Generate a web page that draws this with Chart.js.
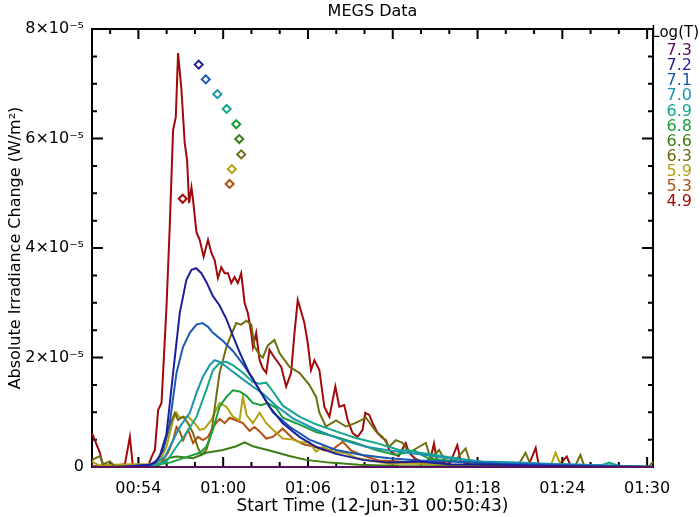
<!DOCTYPE html>
<html>
<head>
<meta charset="utf-8">
<title>MEGS Data</title>
<script src="https://cdn.jsdelivr.net/npm/chart.js@4.4.1/dist/chart.umd.min.js"></script>
<style>
    html, body { margin: 0; padding: 0; background: #fff; }
    #wrap { width: 700px; height: 517px; }
</style>
</head>
<body>
<div id="wrap"><canvas id="megsChart" width="700" height="517"></canvas></div>
<script>
// Start of the time axis: 00:50:43, in minutes after midnight
const START_CLOCK = 50 + 43 / 60;

// Tick labels
const xTickLabels = ['00:54', '01:00', '01:06', '01:12', '01:18', '01:24', '01:30'];
const yTickValues = [0, 2, 4, 6, 8];
const yTickLabels = ['0', '2\u00d710\u207b\u2075', '4\u00d710\u207b\u2075', '6\u00d710\u207b\u2075', '8\u00d710\u207b\u2075'];

// Legend / series names (Log T) and colours
const logT = ['7.3', '7.2', '7.1', '7.0', '6.9', '6.8', '6.6', '6.3', '5.9', '5.3', '4.9'];
const lineColors = ['#5a1060', '#1f1f9a', '#1a58b4', '#1a94b0', '#14a88c', '#18a03c',
                    '#3c7d14', '#6e6e10', '#b4a014', '#b4500f', '#a00a0a'];

// Series: [minutes since 00:50:43, irradiance change in units of 1e-5 W/m^2]
const s73 = [[0, 0], [10, 0], [20, 0], [30, 0], [39.7, 0]];
const s72 = [[0, 0], [2, 0], [4.1, 0.04], [4.45, 0.08], [4.8, 0.2], [5.27, 0.6], [5.74, 1.72], [6.21, 2.81],
    [6.68, 3.42], [7.04, 3.6], [7.37, 3.63], [7.74, 3.54], [8.09, 3.38], [8.56, 3.12], [9.03, 2.95],
    [9.51, 2.7], [9.97, 2.4], [10.44, 2.1], [11.15, 1.7], [11.86, 1.4], [12.56, 1.1], [13.5, 0.8],
    [14.68, 0.55], [15.86, 0.37], [17.27, 0.24], [19.15, 0.13], [21.03, 0.08], [23.1, 0.1], [25.3, 0.05],
    [28.8, 0.04], [32.3, 0.02], [35.9, 0.01], [39.7, 0]];
const s71 = [[0, 0], [2, 0], [4.1, 0.04], [4.6, 0.12], [5.03, 0.31], [5.5, 0.8], [5.98, 1.72], [6.44, 2.19],
    [6.92, 2.45], [7.39, 2.6], [7.81, 2.63], [8.21, 2.56], [8.56, 2.45], [9.27, 2.3], [9.97, 2.12],
    [10.68, 1.88], [11.38, 1.62], [11.86, 1.4], [12.33, 1.2], [12.8, 1.0], [13.97, 0.74], [15.38, 0.5],
    [17.27, 0.31], [19.13, 0.22], [21.03, 0.16], [23.15, 0.12], [25.3, 0.1], [28.8, 0.06], [32.3, 0.04],
    [35.9, 0.02], [39.7, 0]];
const s70 = [[0, 0], [2, 0], [4.1, 0.03], [5.15, 0.18], [5.74, 0.49], [6.21, 0.73], [6.92, 0.99], [7.39, 1.35],
    [7.85, 1.65], [8.33, 1.86], [8.68, 1.95], [9.03, 1.92], [9.51, 1.83], [9.97, 1.74], [10.68, 1.6],
    [11.38, 1.47], [12.09, 1.34], [13.03, 1.12], [14.21, 0.89], [15.86, 0.68], [17.74, 0.49], [19.39, 0.37],
    [21.03, 0.3], [22.9, 0.24], [25.3, 0.16], [27.6, 0.1], [30.2, 0.08], [33.0, 0.05], [35.9, 0.03], [39.7, 0]];
const s69 = [[0, 0], [2, 0], [4.1, 0.02], [5.27, 0.1], [5.98, 0.37], [6.68, 0.62], [7.39, 0.91], [8.09, 1.41],
    [8.56, 1.77], [9.03, 1.9], [9.51, 1.92], [9.97, 1.86], [10.68, 1.72], [11.38, 1.55], [11.86, 1.52],
    [12.33, 1.54], [12.8, 1.38], [13.5, 1.12], [14.68, 0.92], [15.86, 0.78], [17.27, 0.65], [18.68, 0.53],
    [20.09, 0.44], [21.74, 0.31], [22.5, 0.3], [22.92, 0.27], [24.33, 0.22], [25.74, 0.16], [27.6, 0.09],
    [30.2, 0.06], [33.0, 0.05], [36.0, 0.03], [36.6, 0.08], [37.3, 0.02], [39.7, 0]];
const s68 = [[0, 0], [2, 0], [4.1, 0.02], [5.5, 0.08], [6.68, 0.18], [7.62, 0.26], [8.09, 0.37], [8.56, 0.68],
    [9.03, 1.1], [9.51, 1.28], [9.97, 1.4], [10.44, 1.38], [10.92, 1.3], [11.38, 1.17], [11.97, 1.13],
    [12.42, 1.17], [13.03, 1.08], [13.5, 0.9], [14.45, 0.8], [15.86, 0.64], [17.27, 0.55], [18.68, 0.44],
    [20.09, 0.31], [21.5, 0.22], [22.8, 0.3], [23.85, 0.15], [26.0, 0.1], [28.8, 0.06], [32.3, 0.04],
    [35.9, 0.03], [39.7, 0]];
const s66 = [[0, 0], [4.1, 0.01], [4.8, 0.05], [5.03, 0.1], [5.5, 0.17], [5.98, 0.19], [7.15, 0.16], [8.09, 0.26],
    [9.27, 0.31], [10.21, 0.38], [10.8, 0.45], [11.38, 0.38], [12.56, 0.3], [13.97, 0.2], [15.15, 0.13],
    [16.8, 0.08], [18.9, 0.04], [21.7, 0.02], [39.7, 0]];
const s63 = [[0, 0.13], [0.56, 0.2], [0.78, 0.05], [1.27, 0.1], [1.6, 0.02], [2.45, 0], [3.39, 0], [4.45, 0.05],
    [5.03, 0.31], [5.5, 0.75], [5.86, 0.99], [6.09, 0.86], [6.44, 0.92], [6.8, 0.8], [7.15, 0.62], [7.5, 0.35],
    [7.74, 0.22], [8.09, 0.31], [8.45, 0.62], [8.8, 1.3], [9.03, 1.72], [9.51, 2.19], [9.86, 2.42], [10.21, 2.63],
    [10.56, 2.6], [10.92, 2.67], [11.27, 2.6], [11.5, 2.2], [11.86, 2.05], [12.09, 2.0], [12.44, 2.22],
    [12.91, 2.32], [13.27, 2.08], [13.97, 1.83], [14.68, 1.72], [15.38, 1.5], [15.86, 1.28], [16.09, 0.99],
    [16.56, 0.74], [17.27, 0.85], [17.97, 0.74], [18.63, 0.8], [19.39, 0.9], [20.09, 0.65], [20.56, 0.55],
    [21.03, 0.37], [21.5, 0.49], [21.97, 0.44], [22.44, 0.26], [23.15, 0.37], [23.62, 0.44], [23.97, 0.15],
    [24.56, 0.31], [25.03, 0.1], [25.7, 0.12], [26.44, 0.34], [26.8, 0.05], [28.8, 0.03], [30.2, 0.05],
    [30.68, 0.26], [31.05, 0.03], [34.16, 0], [34.56, 0.22], [34.86, 0], [39.4, 0], [39.7, 0.1]];
const s59 = [[0, 0.1], [0.5, 0.03], [2.7, 0.05], [4.1, 0.05], [4.8, 0.1], [5.27, 0.37], [5.74, 0.86], [5.98, 0.99],
    [6.21, 0.9], [6.8, 0.92], [7.27, 0.8], [7.62, 0.68], [7.97, 0.7], [8.45, 0.86], [8.68, 0.99], [9.03, 1.17],
    [9.51, 1.1], [9.97, 0.92], [10.44, 0.85], [10.68, 1.28], [10.94, 0.95], [11.38, 0.8], [11.86, 0.99],
    [12.33, 0.8], [12.8, 0.68], [13.5, 0.52], [14.21, 0.5], [14.68, 0.45], [15.38, 0.45], [15.86, 0.28],
    [16.32, 0.37], [17.03, 0.28], [17.97, 0.25], [18.68, 0.17], [19.62, 0.12], [21.03, 0.06], [23.15, 0.06],
    [25.3, 0.04], [30.2, 0.03], [32.5, 0.05], [32.8, 0.26], [33.2, 0.03], [35.9, 0.02], [39.7, 0]];
const s53 = [[0, 0.02], [4.1, 0.02], [4.8, 0.05], [5.38, 0.26], [5.74, 0.49], [5.98, 0.73], [6.21, 0.65],
    [6.44, 0.49], [6.8, 0.68], [7.15, 0.44], [7.5, 0.55], [7.85, 0.49], [8.21, 0.55], [8.56, 0.73], [9.03, 0.88],
    [9.39, 0.8], [9.74, 0.9], [10.32, 0.84], [10.68, 0.8], [11.15, 0.66], [11.5, 0.73], [11.86, 0.65],
    [12.33, 0.52], [12.8, 0.55], [13.5, 0.7], [14.21, 0.52], [14.92, 0.42], [15.86, 0.36], [16.44, 0.3],
    [17.03, 0.32], [17.74, 0.46], [18.35, 0.3], [19.39, 0.19], [20.3, 0.12], [21.74, 0.1], [23.15, 0.06],
    [25.3, 0.04], [28.8, 0.03], [39.7, 0]];
const s49 = [[0, 0.62], [0.56, 0.26], [0.8, 0], [2.33, 0.05], [2.68, 0.55], [2.9, 0], [3.95, 0], [4.21, 0.18],
    [4.45, 0.31], [4.68, 1.04], [4.92, 1.17], [5.27, 2.92], [5.5, 4.38], [5.74, 6.16], [5.93, 6.39],
    [6.09, 7.56], [6.33, 6.89], [6.56, 5.92], [6.73, 5.6], [6.87, 4.82], [7.04, 5.11], [7.15, 4.88],
    [7.39, 4.29], [7.62, 4.15], [7.9, 3.84], [8.21, 4.15], [8.45, 3.91], [8.68, 3.78], [8.91, 3.45],
    [9.15, 3.65], [9.39, 3.54], [9.62, 3.54], [9.86, 3.36], [10.09, 3.47], [10.32, 3.36], [10.56, 3.54],
    [10.8, 3.0], [11.03, 2.81], [11.27, 2.45], [11.39, 2.19], [11.62, 2.45], [11.86, 1.95], [12.09, 1.8],
    [12.33, 1.72], [12.56, 2.14], [12.91, 2.0], [13.39, 1.83], [13.74, 1.47], [14.09, 1.72], [14.33, 2.45],
    [14.56, 3.05], [14.8, 2.84], [15.03, 2.63], [15.27, 2.26], [15.5, 1.77], [15.74, 1.95], [16.09, 1.77],
    [16.44, 1.1], [16.8, 0.92], [17.22, 1.47], [17.5, 1.1], [17.85, 1.13], [18.09, 0.86], [18.44, 0.62],
    [18.8, 0.55], [19.15, 0.68], [19.34, 0.99], [19.62, 0.95], [19.86, 0.8], [20.21, 0.62], [20.56, 0.53],
    [20.8, 0.49], [21.03, 0.31], [21.26, 0.26], [21.7, 0.2], [22.2, 0.44], [22.44, 0.26], [22.87, 0.15],
    [23.62, 0.07], [24.0, 0.2], [24.2, 0.43], [24.42, 0.1], [25.3, 0.05], [25.85, 0.4], [26.1, 0.1],
    [26.7, 0.05], [28.8, 0.03], [30.9, 0.03], [31.4, 0.35], [31.6, 0.05], [33.0, 0.03], [33.6, 0.19],
    [33.9, 0], [35.9, 0], [39.7, 0]];
const seriesList = [s73, s72, s71, s70, s69, s68, s66, s63, s59, s53, s49];

// Diamond markers (7.2 ... 4.9): time in minutes, height in 1e-5 units
const peakT = [7.55, 8.05, 8.87, 9.53, 10.21, 10.42, 10.56, 9.90, 9.74, 6.42];
const peakV = [7.35, 7.08, 6.81, 6.54, 6.26, 5.99, 5.71, 5.44, 5.17, 4.90];
const peakColors = lineColors.slice(1);

// Axis tick positions in minutes since start
function clockToMin(label) {
    const parts = label.split(':');
    return parseInt(parts[0], 10) * 60 + parseInt(parts[1], 10) - START_CLOCK;
}
const xMajor = xTickLabels.map(clockToMin);
const xMinor = [];
for (let m = 52; m <= 90; m += 2) {
    const v = m - START_CLOCK;
    if (!xMajor.some(x => Math.abs(x - v) < 0.01)) xMinor.push(v);
}
const yMinor = [];
for (let v = 0.5; v < 8; v += 0.5) {
    if (!yTickValues.includes(v)) yMinor.push(v);
}

const FONT = 'DejaVu Sans';

// IDL style box with inward ticks, title, axis titles and Log(T) legend
const idlFrame = {
    id: 'idlFrame',
    beforeDatasetsDraw(chart) {
        const { ctx, chartArea: a, scales } = chart;
        const xs = scales.x, ys = scales.y;
        ctx.save();
        ctx.strokeStyle = '#000';
        ctx.lineWidth = 2;
        ctx.strokeRect(a.left, a.top, a.right - a.left, a.bottom - a.top);
        ctx.beginPath();
        const xTick = (v, len) => {
            const px = xs.getPixelForValue(v);
            ctx.moveTo(px, a.bottom); ctx.lineTo(px, a.bottom - len);
            ctx.moveTo(px, a.top); ctx.lineTo(px, a.top + len);
        };
        const yTick = (v, len) => {
            const py = ys.getPixelForValue(v);
            ctx.moveTo(a.left, py); ctx.lineTo(a.left + len, py);
            ctx.moveTo(a.right, py); ctx.lineTo(a.right - len, py);
        };
        xMajor.forEach(v => xTick(v, 10));
        xMinor.forEach(v => xTick(v, 5));
        yTickValues.forEach(v => yTick(v, 11));
        yMinor.forEach(v => yTick(v, 5));
        ctx.stroke();
        ctx.restore();
    },
    afterDraw(chart) {
        const { ctx, chartArea: a } = chart;
        const cx = (a.left + a.right) / 2;
        ctx.save();
        ctx.fillStyle = '#000';
        ctx.textBaseline = 'middle';
        ctx.textAlign = 'center';
        ctx.font = `16px "${FONT}"`;
        ctx.fillText('MEGS Data', cx, 12);
        ctx.font = `17px "${FONT}"`;
        ctx.fillText('Start Time (12-Jun-31 00:50:43)', cx, 507);

        ctx.save();
        ctx.translate(16, (a.top + a.bottom) / 2);
        ctx.rotate(-Math.PI / 2);
        ctx.font = `16px "${FONT}"`;
        ctx.fillText('Absolute Irradiance Change (W/m\u00b2)', 0, 0);
        ctx.restore();

        // Log(T) legend
        ctx.font = `15px "${FONT}"`;
        ctx.textAlign = 'right';
        ctx.fillText('Log(T)', 699, 33);
        ctx.font = `16px "${FONT}"`;
        logT.forEach((lbl, i) => {
            ctx.fillStyle = lineColors[i];
            ctx.fillText(lbl, 692, 51 + i * 15.1);
        });
        ctx.restore();
    }
};

const datasets = seriesList.map((pts, i) => ({
    label: logT[i],
    data: pts.map(p => ({ x: p[0], y: p[1] })),
    borderColor: lineColors[i],
    backgroundColor: lineColors[i],
    borderWidth: 2,
    pointRadius: 0,
    tension: 0,
    fill: false,
    clip: false
}));

datasets.push({
    type: 'scatter',
    label: 'peaks',
    data: peakT.map((t, i) => ({ x: t, y: peakV[i] })),
    pointStyle: 'rectRot',
    pointRadius: 4,
    pointBorderWidth: 2,
    pointBorderColor: peakColors,
    pointBackgroundColor: 'rgba(0,0,0,0)',
    showLine: false
});

Chart.defaults.font.family = FONT;
Chart.defaults.font.size = 16;
Chart.defaults.color = '#000';

const megsChart = new Chart(document.getElementById('megsChart').getContext('2d'), {
    type: 'line',
    data: { datasets: datasets },
    options: {
        responsive: false,
        animation: false,
        devicePixelRatio: 1,
        layout: { padding: { top: 29, right: 47, left: 0, bottom: 0 } },
        plugins: {
            legend: { display: false },
            tooltip: { enabled: false },
            title: { display: false }
        },
        scales: {
            x: {
                type: 'linear',
                min: 0,
                max: 39.7,
                grid: { display: false, drawTicks: false },
                border: { display: false },
                afterBuildTicks: s => { s.ticks = xMajor.map(v => ({ value: v })); },
                afterFit: s => { s.height = 50; },
                ticks: {
                    autoSkip: false,
                    maxRotation: 0,
                    padding: 12,
                    callback: (v, i) => xTickLabels[i]
                }
            },
            y: {
                type: 'linear',
                min: 0,
                max: 8,
                grid: { display: false, drawTicks: false },
                border: { display: false },
                afterBuildTicks: s => { s.ticks = yTickValues.map(v => ({ value: v })); },
                afterFit: s => { s.width = 92; },
                ticks: {
                    padding: 8,
                    callback: (v, i) => yTickLabels[i]
                }
            }
        }
    },
    plugins: [idlFrame]
});
</script>
</body>
</html>
